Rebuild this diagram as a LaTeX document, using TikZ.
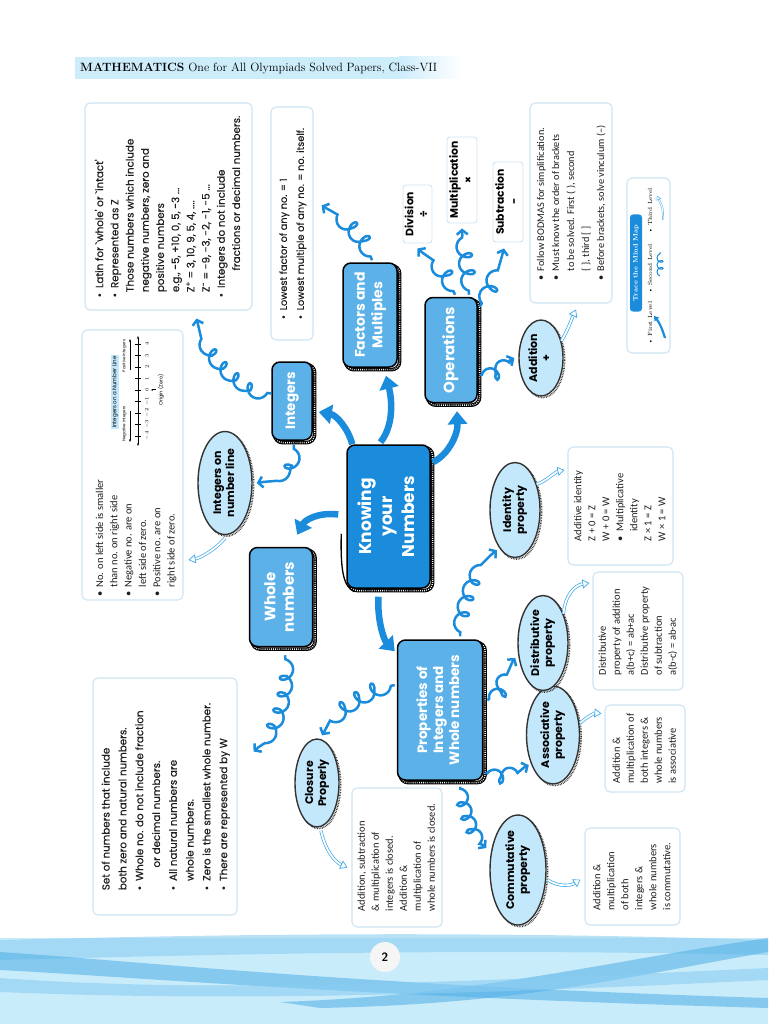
\documentclass[tikz,border=0pt]{standalone}
\usepackage{fontspec}
\usepackage{graphicx}
\usetikzlibrary{arrows.meta,decorations.pathmorphing,shapes.geometric,calc}
\newfontfamily\pop[FakeBold=0.35]{Poppins}
\newfontfamily\popb{Poppins}
\newfontfamily\hand{Carlito}
\definecolor{kblue}{HTML}{1A8CDB}
\definecolor{mblue}{HTML}{5CB2E8}
\definecolor{ellfill}{HTML}{C4E8FB}
\definecolor{ellline}{HTML}{333333}
\definecolor{boxline}{HTML}{CFE4F4}
\definecolor{lblue}{HTML}{3DA9E8}
\definecolor{hdr}{HTML}{CDEDFB}
\definecolor{wave0}{HTML}{C9ECFB}
\definecolor{wave1}{HTML}{4FAEE6}
\definecolor{wave2}{HTML}{8ACDF1}
\definecolor{txt}{HTML}{1E1E1E}
\newcommand{\rc}[1]{\rotatebox{90}{\begin{tabular}{@{}c@{}}#1\end{tabular}}}
\newcommand{\rl}[1]{\rotatebox{90}{\begin{tabular}{@{}l@{}}#1\end{tabular}}}
\newcommand{\bu}{\makebox[0.9em][l]{\textbullet}}
\newcommand{\popt}{\pop\fontsize{10.3}{15.2}\selectfont}
\newcommand{\handt}{\hand\fontsize{10.5}{14}\selectfont}
\begin{document}
\begin{tikzpicture}[x=1pt,y=-1pt,
  mainbox/.style={rounded corners=8pt, draw=black, line width=1.5pt, fill=mblue, text=white, inner sep=1pt,
    preaction={draw=black, line width=3.6pt, transform canvas={xshift=2.6pt,yshift=-2.6pt}},
    preaction={draw=white, line width=1.4pt, dash pattern=on 0.8pt off 1.3pt, transform canvas={xshift=2.6pt,yshift=-2.6pt}}},
  ell/.style={ellipse, draw=ellline, line width=1.4pt, fill=ellfill, inner sep=0pt, text=black,
    preaction={draw=ellline, line width=1.6pt, dash pattern=on 0.7pt off 0.9pt, transform canvas={xshift=1.6pt,yshift=-1.6pt}}},
  ellab/.style={text=black, inner sep=0pt, font=\popb\bfseries\fontsize{11}{13}\selectfont},
  descbox/.style={rounded corners=5pt, draw=boxline, line width=1.1pt, fill=white, inner sep=0pt, text=txt},
  opbox/.style={rounded corners=3pt, draw=boxline, line width=0.9pt, fill=white, inner sep=0pt, text=black,
    font=\popb\bfseries\fontsize{10.8}{14}\selectfont},
  thickarrow/.style={draw=kblue, line width=6.5pt, -{Triangle[width=19pt,length=13pt]}},
  curl/.style={draw=kblue, line width=2.5pt, decorate,
    decoration={coil, aspect=0.8, amplitude=7pt, segment length=17pt, pre length=4pt, post length=7pt},
    -{Straight Barb[length=4.5pt,width=11pt]}},
  scurl/.style={curl, decoration={coil, aspect=0.8, amplitude=6pt, segment length=14pt, pre length=2pt, post length=5pt}},
  hollow/.style={draw=lblue, line width=0.7pt, double=white, double distance=1.8pt,
    -{Triangle[open,width=9pt,length=7pt]}}]
\useasboundingbox (0,0) rectangle (768,1024);
\fill[white] (0,0) rectangle (768,1024);

% header
\fill[hdr] (75,57) rectangle (400,79);
\shade[left color=hdr, right color=white] (399,57) rectangle (462,79);
\node[anchor=west, inner sep=0pt, font=\fontsize{12}{13}\selectfont] (header) at (80,68)
  {\textbf{MATHEMATICS} One for All Olympiads Solved Papers, Class-VII};

% footer waves
\fill[wave0] (0,938) rectangle (768,1024);
\fill[wave2, opacity=.6] (0,940) .. controls (200,935) and (450,930) .. (768,940) -- (768,955) .. controls (450,948) and (200,955) .. (0,960) -- cycle;
\fill[wave1, opacity=.55] (0,952) .. controls (150,962) and (350,985) .. (768,998) -- (768,1008) .. controls (350,996) and (150,978) .. (0,970) -- cycle;
\fill[wave1, opacity=.55] (280,1002) .. controls (480,995) and (600,962) .. (768,938) -- (768,952) .. controls (620,978) and (520,1004) .. (320,1008) -- cycle;
\fill[wave2, opacity=.6] (0,978) .. controls (200,992) and (400,985) .. (768,968) -- (768,980) .. controls (400,998) and (200,1000) .. (0,992) -- cycle;
\node[circle, fill=gray!8, minimum size=30pt, inner sep=0pt, font=\sffamily\bfseries\fontsize{12}{12}\selectfont] (pg) at (385,957) {2};

% main boxes
\node[mainbox, fill=kblue, minimum width=83pt, minimum height=143pt] (kyn) at (388.5,516.5)
  {\popb\bfseries\fontsize{17}{21.5}\selectfont\rc{Knowing\\your\\Numbers}};
\draw[black, line width=1.3pt] ($(kyn.south west)+(-5,-55)$) .. controls ($(kyn.south west)+(-6,-15)$) and ($(kyn.south west)+(-2,-2)$) .. ($(kyn.south west)+(8,3)$);
\node[mainbox, minimum width=40pt, minimum height=78pt] (intg) at (292,401)
  {\popb\bfseries\fontsize{13.5}{15}\selectfont\rc{Integers}};
\node[mainbox, minimum width=54pt, minimum height=104pt] (fact) at (370,315)
  {\popb\bfseries\fontsize{14}{17.5}\selectfont\rc{Factors and\\Multiples}};
\node[mainbox, minimum width=52pt, minimum height=105pt] (oper) at (451,350)
  {\popb\bfseries\fontsize{15}{17}\selectfont\rc{Operations}};
\node[mainbox, minimum width=63pt, minimum height=99pt] (whole) at (281,597)
  {\popb\bfseries\fontsize{15}{18.5}\selectfont\rc{Whole\\numbers}};
\node[mainbox, minimum width=85pt, minimum height=140pt] (prop) at (440,710)
  {\popb\bfseries\fontsize{13.5}{16}\selectfont\rc{Properties of\\Integers and\\Whole numbers}};

% ellipses
\node[ell, minimum width=54pt, minimum height=103pt, label={[ellab]center:\rc{Integers on\\number line}}] (inl) at (225,483) {};
\node[ell, minimum width=44pt, minimum height=88pt, label={[ellab]center:\rc{Closure\\Properly}}] (clos) at (317,783) {};
\node[ell, minimum width=56pt, minimum height=110pt, label={[ellab]center:\rc{Commutative\\property}}] (comm) at (518,870) {};
\node[ell, minimum width=53pt, minimum height=98pt, label={[ellab]center:\rc{Associative\\property}}] (assoc) at (553,735) {};
\node[ell, minimum width=50pt, minimum height=95pt, label={[ellab]center:\rc{Distributive\\property}}] (dist) at (543,643) {};
\node[ell, minimum width=50pt, minimum height=95pt, label={[ellab]center:\rc{Identity\\property}}] (iden) at (515,510) {};
\node[ell, minimum width=44pt, minimum height=76pt, label={[ellab]center:\rc{Addition\\+}}] (addn) at (541,358) {};

% operation boxes
\node[opbox, minimum width=29pt, minimum height=58pt] (divb) at (417.5,214) {\rc{Division\\÷}};
\node[opbox, minimum width=30pt, minimum height=86pt] (mulb) at (462,180) {\rc{Multiplication\\×}};
\node[opbox, minimum width=30pt, minimum height=80pt] (subb) at (508,202) {\rc{Subtraction\\−}};

% description boxes
\node[descbox, minimum width=167pt, minimum height=207pt] (intgbox) at (168.5,206.5)
  {\popt\rl{\bu Latin for `whole' or `intact'\\
  \bu Represented as Z\\
  \hspace{0.5em}Those numbers which include\\
  \hspace{0.5em}negative numbers, zero and\\
  \hspace{0.5em}positive numbers\\
  \hspace{0.5em}e.g., -5, +10, 0, 5, -3 ...\\
  \hspace{0.5em}Z\textsuperscript{+} = 3, 10, 9, 5, 4, ....\\
  \hspace{0.5em}Z\textsuperscript{-} = -9, -3, -2, -1, -5 ...\\
  \bu Integers do not include\\
  \hspace{2.6em}fractions or decimal numbers.}};
\node[descbox, minimum width=42pt, minimum height=233pt] (factbox) at (292,223.5)
  {\pop\fontsize{9.8}{17}\selectfont\rl{\bu Lowest factor of any no. = 1\\
  \bu Lowest multiple of any no. = no. itself.}};
\node[descbox, minimum width=101pt, minimum height=270pt] (nlbox) at (132.5,465) {};
\node[anchor=south, inner sep=0pt, text=txt] (nltext) at (136,597)
  {\hand\fontsize{10.5}{14.3}\selectfont\rl{\bu No. on left side is smaller\\
  \hspace{0.9em}than no. on right side\\
  \bu Negative no. are on\\
  \hspace{0.9em}left side of zero.\\
  \bu Positive no. are on\\
  \hspace{0.9em}right side of zero.}};
\node[descbox, minimum width=144pt, minimum height=237pt] (wholebox) at (165,796.5)
  {\pop\fontsize{10.3}{16.8}\selectfont\rl{Set of numbers that include\\
  both zero and natural numbers.\\
  \bu Whole no. do not include fraction\\
  \hspace{2.2em}or decimal numbers.\\
  \bu All natural numbers are\\
  \hspace{0.9em}whole numbers.\\
  \bu Zero is the smallest whole number.\\
  \bu There are represented by W}};
\node[descbox, minimum width=90pt, minimum height=139pt] (closbox) at (397,857.5)
  {\handt\rl{Addition, subtraction\\ \& multiplication of\\ integers is closed.\\ Addition \&\\ multiplication of\\ whole numbers is closed.}};
\node[descbox, minimum width=95pt, minimum height=97pt] (commbox) at (632.5,876.5)
  {\handt\rl{Addition \&\\ multiplication\\ of both\\ integers \&\\ whole numbers\\ is commutative.}};
\node[descbox, minimum width=80pt, minimum height=87pt] (assocbox) at (645,748.5)
  {\handt\rl{Addition \&\\ multiplication of\\ both integers \&\\ whole numbers\\ is associative}};
\node[descbox, minimum width=90pt, minimum height=118pt] (distbox) at (638,631)
  {\handt\rl{Distributive\\ property of addition\\ a(b+c) = ab+ac\\ Distributive property\\ of subtraction\\ a(b-c) = ab-ac}};
\node[descbox, minimum width=105pt, minimum height=118pt] (idenbox) at (620.5,506)
  {\handt\rl{Additive identity\\ Z + 0 = Z\\ W + 0 = W\\ \bu Multiplicative\\ \hspace{0.9em}identity\\ Z × 1 = Z\\ W × 1 = W}};
\node[descbox, minimum width=82pt, minimum height=200pt] (bodbox) at (571,203)
  {\hand\fontsize{10.3}{15}\selectfont\rl{\bu Follow BODMAS for simplification.\\
  \bu Must know the order of brackets\\
  \hspace{0.9em}to be solved. First ( ), second\\
  \hspace{0.9em}\{ \}, third [ ]\\
  \bu Before brackets, solve vinculum (–)}};
\node[descbox, minimum width=43pt, minimum height=175pt] (legbox) at (648.5,265.5) {};

% number line
\node[fill=ellfill, inner sep=1pt, font=\popb\fontsize{5.5}{6}\selectfont] (nltitle) at (115,392)
  {\rotatebox{90}{Integers on a Number Line}};
\node[font=\popb\fontsize{4}{5}\selectfont, inner sep=0pt] (nlneg) at (124.5,424) {\rotatebox{90}{Negative Integers}};
\node[font=\popb\fontsize{4}{5}\selectfont, inner sep=0pt] (nlpos) at (124.5,356) {\rotatebox{90}{Positive Integers}};
\draw[-{Stealth[length=3pt]}, line width=0.4pt] (130,411) -- (130,442);
\draw[-{Stealth[length=3pt]}, line width=0.4pt] (130,370) -- (130,339);
\draw[{Stealth[length=3pt]}-{Stealth[length=3pt]}, line width=0.6pt] (138,446) -- (138,336);
\foreach \k in {-4,...,4} {
  \draw[line width=0.5pt] (135,390-11.5*\k) -- (141,390-11.5*\k);
  \node[inner sep=0pt, font=\popb\fontsize{5.5}{6}\selectfont] (nl\k) at (147,390-11.5*\k) {\rotatebox{90}{$\k$}};
}
\draw[double, line width=0.3pt, -{Stealth[length=2pt]}] (156,390) -- (151,390);
\node[inner sep=0pt, font=\popb\fontsize{5}{6}\selectfont] (origin) at (161,390) {\rotatebox{90}{Origin (Zero)}};

% legend
\node[fill=kblue, rounded corners=3pt, text=white, inner sep=0pt, minimum width=12pt, minimum height=97pt,
  font=\bfseries\fontsize{6.5}{7}\selectfont] (badge) at (636,263) {\rotatebox{90}{Trace the Mind Map}};
\node[inner sep=0pt, anchor=south, font=\fontsize{6}{7}\selectfont] (lev1) at (650,345) {\rotatebox{90}{\textbullet\ First Level}};
\node[inner sep=0pt, anchor=south, font=\fontsize{6}{7}\selectfont] (lev2) at (650,294) {\rotatebox{90}{\textbullet\ Second Level}};
\node[inner sep=0pt, anchor=south, font=\fontsize{6}{7}\selectfont] (lev3) at (650,234) {\rotatebox{90}{\textbullet\ Third Level}};
\draw[kblue, line width=2.2pt, -{Triangle[width=6pt,length=4.5pt]}] (665,338) .. controls (662,328) and (659,322) .. (654,316);
\draw[kblue, line width=1pt, decorate, decoration={coil,aspect=0.8,amplitude=3pt,segment length=7pt}] (660,276) -- (660,252);
\draw[draw=lblue, line width=0.4pt, double=white, double distance=1pt, -{Triangle[open,width=5pt,length=4pt]}] (663,220) .. controls (663,208) .. (657,196);

% first level arrows
\draw[thickarrow] ($(kyn.north west)+(6,0)$) .. controls (348,428) and (336,415) .. ($(intg.east)+(6,11)$);
\draw[thickarrow] ($(kyn.north)+(-8,-2)$) .. controls (394,425) and (392,400) .. ($(fact.south)+(16,8)$);
\draw[thickarrow] ($(kyn.north east)+(2,18)$) .. controls (448,455) and (458,435) .. ($(oper.south)+(6,8)$);
\draw[thickarrow] ($(kyn.west)+(-8,-2)$) .. controls (318,512) and (305,520) .. ($(whole.north east)+(-16,-12)$);
\draw[thickarrow] ($(kyn.south)+(-10,8)$) .. controls (377,620) and (384,640) .. ($(prop.north west)+(-2,12)$);

% second level curls
\draw[curl] (intg.160) .. controls (245,392) and (205,360) .. ($(intgbox.south)+(28,8)$);
\draw[curl] ($(intg.south)+(2,4)$) .. controls (294,465) and (275,482) .. ($(inl.east)+(4,0)$);
\draw[curl] ($(fact.north)+(2,-2)$) .. controls (365,240) and (340,215) .. ($(factbox.east)+(8,-18)$);
\draw[curl] ($(oper.north)+(4,-2)$) .. controls (445,270) and (425,255) .. ($(divb.south)+(0,5)$);
\draw[curl] ($(oper.north)+(18,-2)$) .. controls (468,270) and (462,245) .. ($(mulb.south)+(0,5)$);
\draw[curl] ($(oper.north east)+(2,10)$) .. controls (490,290) and (500,265) .. ($(subb.south)+(-4,6)$);
\draw[scurl] ($(oper.east)+(2,25)$) .. controls (495,375) and (505,362) .. ($(addn.west)+(-4,0)$);
\draw[curl] ($(whole.south)+(4,8)$) .. controls (290,700) and (270,740) .. ($(wholebox.east)+(16,-45)$);
\draw[curl] ($(prop.west)+(-2,-25)$) .. controls (370,690) and (335,710) .. ($(clos.north)+(5,-3)$);
\draw[scurl] ($(prop.south)+(20,6)$) .. controls (465,815) and (475,840) .. ($(comm.west)+(-3,-22)$);
\draw[scurl] ($(prop.south east)+(2,-8)$) .. controls (500,778) and (515,772) .. ($(assoc.west)+(3,30)$);
\draw[scurl] ($(prop.east)+(4,-10)$) .. controls (500,695) and (505,670) .. ($(dist.west)+(-2,15)$);
\draw[curl] ($(prop.north)+(20,-3)$) .. controls (462,600) and (480,560) .. ($(iden.south)+(-18,-8)$);

% third level hollow arrows
\draw[hollow] ($(inl.south)+(0,3)$) .. controls (215,550) and (200,558) .. ($(nlbox.east)+(5,95)$);
\draw[hollow] ($(clos.south)+(4,3)$) .. controls (325,850) and (335,862) .. ($(closbox.west)+(-4,10)$);
\draw[hollow] ($(comm.east)+(1,10)$) .. controls (560,888) and (572,885) .. ($(commbox.west)+(-4,3)$);
\draw[hollow] ($(assoc.east)+(0,-12)$) .. controls (588,716) and (595,713) .. ($(assocbox.west)+(-3,-35)$);
\draw[hollow] (dist.55) .. controls (565,595) and (575,585) .. ($(distbox.west)+(-3,-48)$);
\draw[hollow] (iden.50) .. controls (545,482) and (555,472) .. ($(idenbox.west)+(-3,-36)$);
\draw[hollow] (addn.40) .. controls (568,330) and (572,318) .. ($(bodbox.south)+(5,6)$);
\end{tikzpicture}
\end{document}
